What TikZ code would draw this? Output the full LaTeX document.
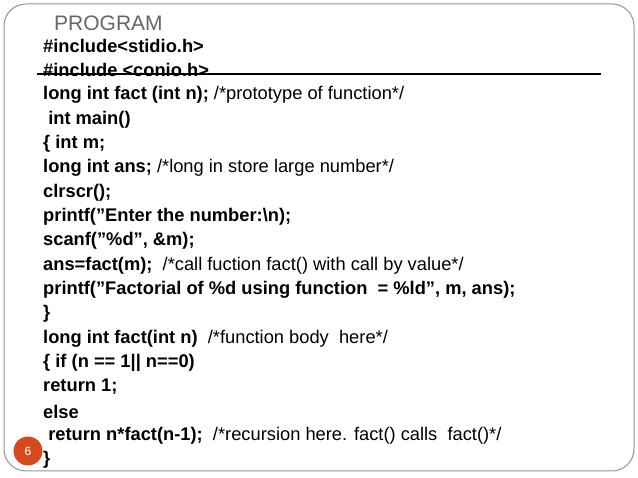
\documentclass[tikz,border=0pt]{standalone}
\usepackage{fontspec}
\setmainfont{Liberation Sans}
\definecolor{numc}{HTML}{D44A1E}
\newcommand{\dq}{{\char"22}}
\begin{document}
\begin{tikzpicture}[x=1pt,y=-1pt,
  code/.style={anchor=west,inner sep=0pt,font=\fontsize{18.3}{20}\selectfont\bfseries}]
\useasboundingbox (0,0) rectangle (638,478);
\draw[gray!85,line width=1pt,rounded corners=22pt] (4,4) rectangle (634,471);
\node[anchor=west,inner sep=0pt,text=gray!80!black,font=\fontsize{21}{24}\selectfont] (title) at (54,23) {PROGRAM};
\node[code] (l1) at (43,46) {\#include<stidio.h>};
\node[code] (l2) at (43,69.5) {\#include <conio.h>};
\coordinate (r1) at (37,74);
\coordinate (r2) at (601,74);
\draw[line width=1.2pt] (r1) -- (r2);
\node[code] (l3) at (43,95) {long int fact (int n); {\mdseries /*prototype of function*/}};
\node[code] (l4) at (43,119.5) {\ int main()};
\node[code] (l5) at (43,144) {\{ int m;};
\node[code] (l6) at (43,168) {long int ans; {\mdseries /*long in store large number*/}};
\node[code] (l7) at (43,192.5) {clrscr();};
\node[code] (l8) at (43,217) {printf(\dq Enter the number:\textbackslash n);};
\node[code] (l9) at (43,241) {scanf(\dq\%d\dq, \&m);};
\node[code] (l10) at (43,265.5) {ans=fact(m);\ \ {\mdseries /*call fuction fact() with call by value*/}};
\node[code] (l11) at (43,290) {printf(\dq Factorial of \%d using function\ \ = \%ld\dq, m, ans);};
\node[code] (l12) at (43,314) {\}};
\node[code] (l13) at (43,338.5) {long int fact(int n)\ \ {\mdseries /*function body\ \ here*/}};
\node[code] (l14) at (43,363) {\{ if (n == 1|| n==0)};
\node[code] (l15) at (43,387) {return 1;};
\node[code] (l16) at (43,411.5) {else};
\node[code] (l17) at (43,436) {\ return n*fact(n-1);\ \ {\mdseries /*recursion here. fact() calls\ \ fact()*/}};
\node[code] (l18) at (43,460) {\}};
\node[circle,fill=numc,minimum size=29pt,inner sep=0pt,text=white,font=\fontsize{12}{13}\selectfont] (num) at (28,451) {6};
\end{tikzpicture}
\end{document}
